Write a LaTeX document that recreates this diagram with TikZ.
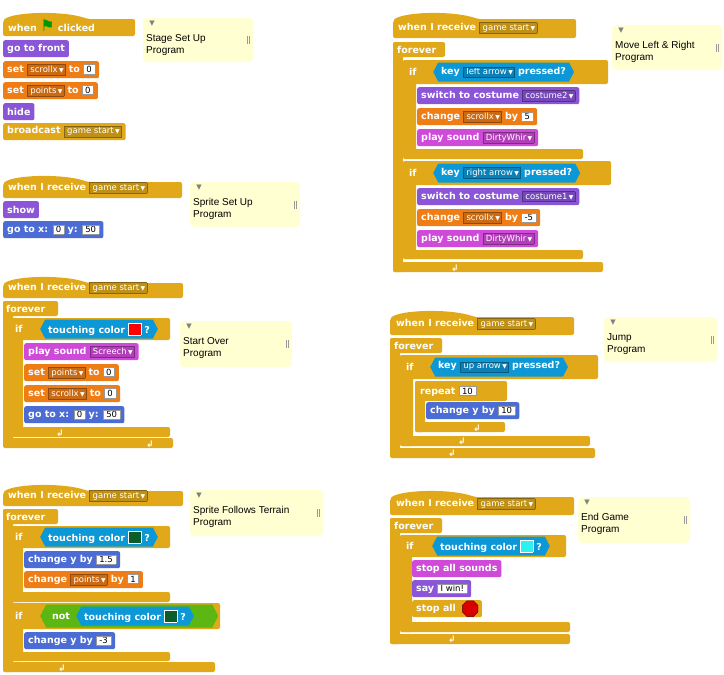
\documentclass[tikz,border=0pt]{standalone}
\usepackage{fontspec}
\setmainfont{DejaVu Sans}
\newfontfamily\cmtfont{Liberation Sans}
\usetikzlibrary{shapes.symbols,shapes.geometric}
\definecolor{ctrl}{HTML}{E1A91A}
\definecolor{looks}{HTML}{8A55D7}
\definecolor{var}{HTML}{EE7D16}
\definecolor{sound}{HTML}{CF4AD9}
\definecolor{motion}{HTML}{4A6CD4}
\definecolor{sens}{HTML}{0C97D6}
\definecolor{op}{HTML}{5CB712}
\definecolor{cmtbg}{HTML}{FFFFD2}
\definecolor{dkg}{HTML}{0B5E2A}
\definecolor{cyan2}{HTML}{2EF0F0}
\setlength{\fboxsep}{1.3pt}
\setlength{\fboxrule}{0.5pt}
\newcommand\dd[2]{\fcolorbox{#1!60!black}{#1!85!black}{\mdseries\fontsize{8.5}{9}\selectfont\,#2\,{\fontsize{6}{6}\selectfont ▼}}}
\newcommand\nm[1]{\fcolorbox{black!40}{white}{\textcolor{black}{\mdseries\fontsize{8.5}{9}\selectfont\,#1\,}}}
\newcommand\sw[1]{\fcolorbox{white}{#1}{\rule{0pt}{9pt}\hspace{9pt}}}
\newcommand\hatblk[5]{\fill[#5,rounded corners=2pt] (#1,#3) -- (#1,{#2+9}) .. controls ({#1+8},{#2}) and ({#1+60},{#2-2}) .. ({#1+85},{#2+7}) -- ({#1+#4},{#2+7}) -- ({#1+#4},#3) -- cycle;}
\newcommand\rbox[5]{\fill[#1,rounded corners=2pt] (#2,#3) rectangle ++(#4,#5);}
\newcommand\cmt[5]{\fill[cmtbg,rounded corners=4pt] (#1,#2) rectangle ++(#3,#4);
 \node[text=black!50,font=\fontsize{7}{7}\selectfont,anchor=center] at ({#1+9},{#2+6}) {▼};
 \draw[black!40] ({#1+#3-6},{#2+#4/2-4}) -- ++(0,8) ({#1+#3-4},{#2+#4/2-4}) -- ++(0,8);
 \node[anchor=north west,font=\cmtfont\fontsize{10}{12}\selectfont,align=left,inner sep=0pt] at ({#1+3},{#2+16}) {#5};}
\tikzset{
 blk/.style={anchor=north west,rounded corners=2pt,minimum height=17pt,inner xsep=4pt,inner ysep=1pt,text=white,font=\fontsize{9.5}{10}\selectfont\bfseries},
 lbl/.style={anchor=west,inner sep=0pt,text=white,font=\fontsize{9.5}{10}\selectfont\bfseries},
 bool/.style={signal,signal to=east and west,signal pointer angle=125,anchor=west,minimum height=19pt,inner xsep=3pt,inner ysep=1pt,text=white,font=\fontsize{9.5}{10}\selectfont\bfseries},
 ret/.style={anchor=center,text=white,inner sep=0pt,font=\fontsize{9}{9}\selectfont\bfseries}
}
\begin{document}
\begin{tikzpicture}[x=1pt,y=-1pt]
\useasboundingbox (0,0) rectangle (724,675);
\fill[white] (0,0) rectangle (724,675);
% ---------- Script 1
\hatblk{3}{12}{36}{132}{ctrl}
\node[lbl] (s1h) at (8,26) {when \textcolor{green!60!black}{\fontsize{16}{16}\selectfont ⚑} clicked};
\node[blk,fill=looks] (s1a) at (3,40) {go to front};
\node[blk,fill=var] (s1b) at (3,61) {set \dd{var}{scrollx} to \nm{0}};
\node[blk,fill=var] (s1c) at (3,82) {set \dd{var}{points} to \nm{0}};
\node[blk,fill=looks] (s1d) at (3,103) {hide};
\node[blk,fill=ctrl] (s1e) at (3,123) {broadcast \dd{ctrl}{game start}};
\cmt{143}{18}{110}{44}{Stage Set Up\\Program}
% ---------- Script 2
\hatblk{3}{175}{198}{179}{ctrl}
\node[lbl] (s2h) at (8,188) {when I receive \dd{ctrl}{game start}};
\node[blk,fill=looks] (s2a) at (3,201) {show};
\node[blk,fill=motion] (s2b) at (3,221) {go to x: \nm{0} y: \nm{50}};
\cmt{190}{182}{110}{45}{Sprite Set Up\\Program}
% ---------- Script 3
\hatblk{3}{276}{298}{180}{ctrl}
\node[lbl] (s3h) at (8,288) {when I receive \dd{ctrl}{game start}};
\rbox{ctrl}{3}{301}{55}{15}
\rbox{ctrl}{3}{301}{10}{146}
\rbox{ctrl}{3}{438}{170}{10}
\node[lbl] (s3f) at (6,309) {forever};
\node[ret] (s3r1) at (150,444) {↲};
\rbox{ctrl}{10}{318}{160}{22}
\rbox{ctrl}{10}{318}{13}{118}
\rbox{ctrl}{10}{427}{160}{10}
\node[lbl] (s3if) at (15,329) {if};
\node[ret] (s3r2) at (60,433) {↲};
\node[bool,fill=sens] (s3b) at (40,329) {touching color \sw{red} ?};
\node[blk,fill=sound] (s3a) at (24,343) {play sound \dd{sound}{Screech}};
\node[blk,fill=var] (s3c) at (24,364) {set \dd{var}{points} to \nm{0}};
\node[blk,fill=var] (s3d) at (24,385) {set \dd{var}{scrollx} to \nm{0}};
\node[blk,fill=motion] (s3e) at (24,406) {go to x: \nm{0} y: \nm{50}};
\cmt{180}{321}{112}{46}{Start Over\\Program}
% ---------- Script 4
\hatblk{3}{484}{506}{180}{ctrl}
\node[lbl] (s4h) at (8,496) {when I receive \dd{ctrl}{game start}};
\rbox{ctrl}{3}{509}{55}{15}
\rbox{ctrl}{3}{509}{10}{163}
\rbox{ctrl}{3}{662}{212}{10}
\node[lbl] (s4f) at (6,517) {forever};
\node[ret] (s4r1) at (62,668) {↲};
\rbox{ctrl}{10}{526}{160}{22}
\rbox{ctrl}{10}{526}{13}{76}
\rbox{ctrl}{10}{592}{160}{10}
\node[lbl] (s4if1) at (15,537) {if};
\node[bool,fill=sens] (s4b1) at (40,537) {touching color \sw{dkg} ?};
\node[blk,fill=motion] (s4a) at (24,551) {change y by \nm{1.5}};
\node[blk,fill=var] (s4c) at (24,571) {change \dd{var}{points} by \nm{1}};
\rbox{ctrl}{10}{603}{210}{26}
\rbox{ctrl}{10}{603}{13}{58}
\rbox{ctrl}{10}{652}{160}{9}
\node[lbl] (s4if2) at (15,616) {if};
\node[bool,fill=op,minimum width=178pt,minimum height=23pt] (s4n) at (40,616) {};
\node[lbl] (s4not) at (52,616) {not};
\node[bool,fill=sens] (s4b2) at (76,616) {touching color \sw{dkg} ?};
\node[blk,fill=motion] (s4d) at (24,632) {change y by \nm{-3}};
\cmt{190}{490}{133}{46}{Sprite Follows Terrain\\Program}
% ---------- Script 5
\hatblk{393}{12}{38}{183}{ctrl}
\node[lbl] (s5h) at (398,28) {when I receive \dd{ctrl}{game start}};
\rbox{ctrl}{393}{42}{52}{15}
\rbox{ctrl}{393}{42}{10}{230}
\rbox{ctrl}{393}{262}{210}{10}
\node[lbl] (s5f) at (397,50) {forever};
\node[ret] (s5r1) at (455,268) {↲};
\rbox{ctrl}{403}{60}{205}{24}
\rbox{ctrl}{403}{60}{13}{98}
\rbox{ctrl}{403}{149}{180}{10}
\node[lbl] (s5if1) at (409,72) {if};
\node[bool,fill=sens] (s5b1) at (433,72) {key \dd{sens}{left arrow} pressed?};
\node[blk,fill=looks] (s5a) at (417,87) {switch to costume \dd{looks}{costume2}};
\node[blk,fill=var] (s5c) at (417,108) {change \dd{var}{scrollx} by \nm{5}};
\node[blk,fill=sound] (s5d) at (417,129) {play sound \dd{sound}{DirtyWhir}};
\rbox{ctrl}{403}{161}{208}{24}
\rbox{ctrl}{403}{161}{13}{98}
\rbox{ctrl}{403}{250}{180}{9}
\node[lbl] (s5if2) at (409,173) {if};
\node[bool,fill=sens] (s5b2) at (433,173) {key \dd{sens}{right arrow} pressed?};
\node[blk,fill=looks] (s5e) at (417,188) {switch to costume \dd{looks}{costume1}};
\node[blk,fill=var] (s5g) at (417,209) {change \dd{var}{scrollx} by \nm{-5}};
\node[blk,fill=sound] (s5i) at (417,230) {play sound \dd{sound}{DirtyWhir}};
\cmt{612}{25}{110}{45}{Move Left \& Right\\Program}
% ---------- Script 6
\hatblk{390}{310}{335}{184}{ctrl}
\node[lbl] (s6h) at (396,324) {when I receive \dd{ctrl}{game start}};
\rbox{ctrl}{390}{338}{52}{15}
\rbox{ctrl}{390}{338}{10}{119}
\rbox{ctrl}{390}{448}{205}{10}
\node[lbl] (s6f) at (394,346) {forever};
\node[ret] (s6r1) at (452,453) {↲};
\rbox{ctrl}{400}{355}{198}{24}
\rbox{ctrl}{400}{355}{13}{91}
\rbox{ctrl}{400}{436}{190}{10}
\node[lbl] (s6if) at (406,367) {if};
\node[ret] (s6r2) at (462,441) {↲};
\node[bool,fill=sens] (s6b) at (430,367) {key \dd{sens}{up arrow} pressed?};
\rbox{ctrl}{415}{381}{92}{20}
\rbox{ctrl}{415}{381}{10}{51}
\rbox{ctrl}{415}{422}{90}{10}
\node[lbl] (s6rep) at (420,391) {repeat \nm{10}};
\node[ret] (s6r3) at (477,428) {↲};
\node[blk,fill=motion] (s6a) at (426,402) {change y by \nm{10}};
\cmt{604}{317}{113}{45}{Jump\\Program}
% ---------- Script 7
\hatblk{390}{490}{515}{184}{ctrl}
\node[lbl] (s7h) at (396,504) {when I receive \dd{ctrl}{game start}};
\rbox{ctrl}{390}{518}{52}{15}
\rbox{ctrl}{390}{518}{10}{126}
\rbox{ctrl}{390}{634}{180}{10}
\node[lbl] (s7f) at (394,526) {forever};
\node[ret] (s7r1) at (452,639) {↲};
\rbox{ctrl}{400}{535}{166}{22}
\rbox{ctrl}{400}{535}{12}{97}
\rbox{ctrl}{400}{622}{170}{10}
\node[lbl] (s7if) at (406,546) {if};
\node[bool,fill=sens] (s7b) at (432,546) {touching color \sw{cyan2} ?};
\node[blk,fill=sound] (s7a) at (412,560) {stop all sounds};
\node[blk,fill=looks] (s7c) at (412,580) {say \nm{I win!}};
\node[blk,fill=ctrl] (s7d) at (412,600) {stop all\hspace*{22pt}\null};
\node[regular polygon,regular polygon sides=8,fill=red!85!black,draw=red!40!black,minimum size=17pt,inner sep=0pt] (s7stop) at ([xshift=-12pt]s7d.east) {};
\cmt{578}{497}{112}{46}{End Game\\Program}
\end{tikzpicture}
\end{document}
